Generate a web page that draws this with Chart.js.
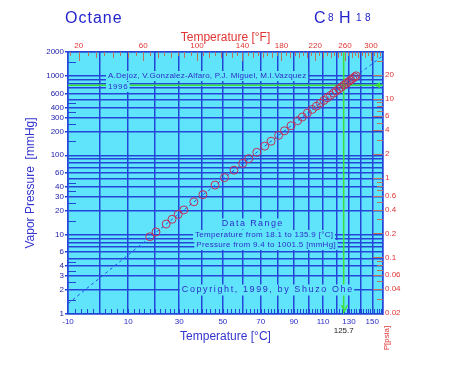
<!DOCTYPE html>
<html>
<head>
<meta charset="utf-8">
<title>Octane vapor pressure</title>
<script src="https://cdn.jsdelivr.net/npm/chart.js@4.4.1/dist/chart.umd.min.js"></script>
<style>
  html, body { margin: 0; padding: 0; background: #ffffff; }
  #coxChart { display: block; }
</style>
</head>
<body>
<canvas id="coxChart" width="474" height="367"></canvas>
<script>
// measured points
var tempC = [18.1, 20.5, 24.6, 27.0, 29.6, 32.0, 36.4, 40.5, 46.2, 50.8, 55.6, 60.1, 63.4, 67.8,
             72.3, 76.0, 80.5, 84.1, 88.2, 92.4, 95.6, 99.0, 102.3, 105.2, 108.0, 110.6, 113.1,
             115.5, 117.8, 119.9, 122.0, 124.0, 125.9, 127.8, 129.6, 131.4, 133.1, 134.6, 135.9];
var pressMmHg = [9.4, 10.8, 13.6, 15.6, 18.0, 20.5, 25.9, 31.9, 42.1, 52.2, 64.9, 78.9, 90.8, 108.9,
                 130.4, 150.4, 178.3, 203.4, 235.5, 272.4, 303.7, 339.9, 378.2, 414.8, 452.7, 490.4, 528.9,
                 567.9, 607.5, 645.7, 685.5, 725.3, 764.9, 806.0, 846.6, 888.7, 930.0, 967.6, 1001.5];

// dashed correlation line
var fitTempC = [-10, 30, 70, 110, 160];
var fitPressMmHg = [1.35, 18.4, 119, 482, 1804];

var gridTempC = [-10, 0, 10, 20, 30, 40, 50, 60, 70, 80, 90, 100, 110, 120, 130, 140, 150, 160];
var bottomTickLabels = [-10, 10, 30, 50, 70, 90, 110, 130, 150];
var topTickLabelsF = [20, 60, 100, 140, 180, 220, 260, 300];
var leftGridMmHg = [1, 2, 3, 4, 5, 6, 7, 8, 9, 10, 20, 30, 40, 50, 60, 70, 80, 90,
                    100, 200, 300, 400, 500, 600, 700, 800, 900, 1000, 2000];
var leftTickLabels = [1, 2, 3, 4, 6, 10, 20, 30, 40, 60, 100, 200, 300, 400, 600, 1000, 2000];
var rightTickLabels = [0.02, 0.04, 0.06, 0.1, 0.2, 0.4, 0.6, 1, 2, 4, 6, 10, 20];

var boilingPointC = 125.7;
var atmMmHg = 760;
var dataRangeT = ['18.1', '135.9'];
var dataRangeP = ['9.4', '1001.5'];

var MMHG_PER_PSI = 51.715;
var COX_C = 230;
var T_MIN = -10, T_MAX = 160;

var BG = '#60E4FC';
var GRID = '#2446D8';
var BLUE_TEXT = '#2C2CC8';
var RED_TEXT = '#E03434';
var TICK_RED = '#C0705A';
var GREEN = '#3CE03C';
var FONT = '"Liberation Sans", Arial, sans-serif';

function toAxis(t) { return -1000 / (t + COX_C); }
function fromAxis(v) { return -1000 / v - COX_C; }
function fToC(f) { return (f - 32) / 1.8; }

function xy(ts, ps) {
    var out = [];
    for (var i = 0; i < ts.length; i++) {
        out.push({x: toAxis(ts[i]), y: ps[i]});
    }
    return out;
}

function boxText(ctx, text, x, y, size, spacing, align) {
    ctx.font = size + 'px ' + FONT;
    ctx.letterSpacing = spacing + 'px';
    var w = ctx.measureText(text).width - spacing;
    var left = align === 'left' ? x : x - w / 2;
    ctx.fillStyle = BG;
    ctx.fillRect(left - 2, y - size / 2 - 1, w + 4, size + 2);
    ctx.fillStyle = BLUE_TEXT;
    ctx.textAlign = 'left';
    ctx.textBaseline = 'middle';
    ctx.fillText(text, left, y);
}

var coxDecor = {
    id: 'coxDecor',
    beforeDraw: function(chart) {
        var a = chart.chartArea, ctx = chart.ctx;
        ctx.save();
        ctx.fillStyle = BG;
        ctx.fillRect(a.left, a.top, a.right - a.left, a.bottom - a.top);
        ctx.restore();
    },
    afterDatasetsDraw: function(chart) {
        var ctx = chart.ctx, a = chart.chartArea;
        var x = chart.scales.x, y = chart.scales.y, y2 = chart.scales.y2;
        var i, px, py, len;
        ctx.save();
        ctx.lineWidth = 1;

        // bottom minor ticks, every 2 degC
        ctx.strokeStyle = GRID;
        ctx.beginPath();
        for (i = T_MIN + 2; i < T_MAX; i += 2) {
            px = Math.round(x.getPixelForValue(toAxis(i))) + 0.5;
            ctx.moveTo(px, a.bottom);
            ctx.lineTo(px, a.bottom - 5);
        }
        // left short ticks
        [1, 10, 100, 1000].forEach(function(d) {
            [1.5, 2.5, 3.5, 4.5].forEach(function(m) {
                py = Math.round(y.getPixelForValue(m * d)) + 0.5;
                if (py > a.top) {
                    ctx.moveTo(a.left, py);
                    ctx.lineTo(a.left + 8, py);
                }
            });
        });
        ctx.stroke();

        // top degF ticks
        ctx.strokeStyle = TICK_RED;
        ctx.beginPath();
        for (i = 15; i <= 320; i += 5) {
            px = Math.round(x.getPixelForValue(toAxis(fToC(i)))) + 0.5;
            if (px <= a.left || px >= a.right) continue;
            len = topTickLabelsF.indexOf(i) >= 0 ? 9 : (i % 10 === 0 ? 6 : 4);
            ctx.moveTo(px, a.top);
            ctx.lineTo(px, a.top + len);
        }
        // right psia ticks
        [0.01, 0.1, 1, 10].forEach(function(d) {
            for (var m = 1; m <= 9; m++) {
                var v = +(m * d).toFixed(3);
                py = Math.round(y2.getPixelForValue(v)) + 0.5;
                if (py < a.top + 1 || py > a.bottom - 1) continue;
                len = rightTickLabels.indexOf(v) >= 0 ? 10 : 6;
                ctx.moveTo(a.right, py);
                ctx.lineTo(a.right - len, py);
            }
        });
        ctx.stroke();

        // boiling point arrow
        px = Math.round(x.getPixelForValue(toAxis(boilingPointC))) + 0.5;
        ctx.strokeStyle = GREEN;
        ctx.lineWidth = 1.5;
        ctx.beginPath();
        ctx.moveTo(px - 3, a.bottom - 9);
        ctx.lineTo(px, a.bottom - 3);
        ctx.lineTo(px + 3, a.bottom - 9);
        ctx.stroke();
        py = y.getPixelForValue(atmMmHg);
        ctx.fillStyle = GREEN;
        ctx.beginPath();
        ctx.moveTo(a.right - 9, py);
        ctx.lineTo(a.right - 3, py - 3);
        ctx.lineTo(a.right - 3, py + 3);
        ctx.fill();

        // notes
        boxText(ctx, 'A.Dejoz, V.Gonzalez-Alfaro, P.J. Miguel, M.I.Vazquez', 108, 76, 8, 0.2, 'left');
        boxText(ctx, '1996', 108, 87, 8, 0.6, 'left');
        boxText(ctx, 'Data Range', 252, 224, 9, 1.4, 'center');
        boxText(ctx, 'Temperature from ' + dataRangeT[0] + ' to ' + dataRangeT[1] + ' [\u00B0C]', 264, 235, 8, 0.3, 'center');
        boxText(ctx, 'Pressure from ' + dataRangeP[0] + ' to ' + dataRangeP[1] + ' [mmHg]', 266, 245, 8, 0.3, 'center');
        boxText(ctx, 'Copyright, 1999, by Shuzo Ohe', 267, 290, 9, 1.6, 'center');

        ctx.restore();
    },
    afterDraw: function(chart) {
        var ctx = chart.ctx, a = chart.chartArea;
        var x = chart.scales.x;
        ctx.save();
        ctx.textBaseline = 'alphabetic';
        ctx.textAlign = 'left';
        ctx.fillStyle = '#2424CC';
        ctx.font = '16px ' + FONT;
        ctx.letterSpacing = '1px';
        ctx.fillText('Octane', 65, 23);

        // formula C8H18
        ctx.fillText('C', 314, 23);
        ctx.fillText('H', 339, 23);
        ctx.font = '10px ' + FONT;
        ctx.letterSpacing = '0px';
        ctx.fillText('8', 328, 21);
        ctx.fillText('1', 356, 21);
        ctx.fillText('8', 365, 21);

        ctx.fillStyle = '#202020';
        ctx.font = '8px ' + FONT;
        ctx.textAlign = 'center';
        ctx.textBaseline = 'middle';
        ctx.fillText(String(boilingPointC), x.getPixelForValue(toAxis(boilingPointC)), 331);

        ctx.fillStyle = RED_TEXT;
        ctx.translate(387, 338);
        ctx.rotate(-Math.PI / 2);
        ctx.fillText('P[psia]', 0, 0);
        ctx.restore();
    }
};

const ctx = document.getElementById('coxChart');

var chartInstance = new Chart(ctx, {
    type: 'scatter',
    data: {
        datasets: [{
            data: xy(tempC, pressMmHg),
            showLine: false,
            pointStyle: 'circle',
            pointRadius: 4,
            pointBorderWidth: 1,
            pointBorderColor: '#C0305A',
            pointBackgroundColor: 'rgba(0,0,0,0)',
            order: 0
        }, {
            data: xy(fitTempC, fitPressMmHg),
            showLine: true,
            borderColor: '#1F4FE8',
            borderWidth: 1,
            borderDash: [3, 3],
            pointRadius: 0,
            order: 1
        }, {
            data: xy([boilingPointC, boilingPointC], [1, 2000]),
            showLine: true,
            borderColor: GREEN,
            borderWidth: 1.5,
            pointRadius: 0,
            order: 2
        }, {
            data: xy([T_MIN, T_MAX], [atmMmHg, atmMmHg]),
            showLine: true,
            borderColor: GREEN,
            borderWidth: 1.5,
            pointRadius: 0,
            order: 2
        }]
    },
    options: {
        responsive: false,
        animation: false,
        devicePixelRatio: 1,
        layout: { padding: 0 },
        plugins: {
            legend: { display: false },
            tooltip: { enabled: false }
        },
        scales: {
            x: {
                type: 'linear',
                position: 'bottom',
                min: toAxis(T_MIN),
                max: toAxis(T_MAX),
                afterBuildTicks: function(scale) {
                    scale.ticks = gridTempC.map(function(t) { return {value: toAxis(t)}; });
                },
                afterFit: function(scale) { scale.height = 53; },
                grid: { color: GRID, lineWidth: 1.5, drawTicks: false },
                border: { color: GRID, width: 1.5 },
                ticks: {
                    autoSkip: false,
                    maxRotation: 0,
                    padding: 3,
                    color: BLUE_TEXT,
                    font: { family: FONT, size: 8 },
                    callback: function(value) {
                        var t = Math.round(fromAxis(value));
                        return bottomTickLabels.indexOf(t) >= 0 ? String(t) : '';
                    }
                },
                title: {
                    display: true,
                    text: 'Temperature [\u00B0C]',
                    color: '#3434D0',
                    font: { family: FONT, size: 12 },
                    padding: { top: 0, bottom: 23 }
                }
            },
            x2: {
                type: 'linear',
                position: 'top',
                min: toAxis(T_MIN),
                max: toAxis(T_MAX),
                afterBuildTicks: function(scale) {
                    scale.ticks = topTickLabelsF.map(function(f) { return {value: toAxis(fToC(f))}; });
                },
                afterFit: function(scale) { scale.height = 52; },
                grid: { drawOnChartArea: false, drawTicks: false },
                border: { color: GRID, width: 1.5 },
                ticks: {
                    autoSkip: false,
                    maxRotation: 0,
                    padding: 1,
                    color: RED_TEXT,
                    font: { family: FONT, size: 8 },
                    callback: function(value) {
                        return String(Math.round(fromAxis(value) * 1.8 + 32));
                    }
                },
                title: {
                    display: true,
                    text: 'Temperature [\u00B0F]',
                    color: RED_TEXT,
                    font: { family: FONT, size: 12 },
                    padding: { top: 30, bottom: 0 }
                }
            },
            y: {
                type: 'logarithmic',
                position: 'left',
                min: 1,
                max: 2000,
                afterBuildTicks: function(scale) {
                    scale.ticks = leftGridMmHg.map(function(v) { return {value: v}; });
                },
                afterFit: function(scale) { scale.width = 68; },
                grid: {
                    color: GRID,
                    lineWidth: 1.5,
                    tickLength: 3,
                    tickColor: function(context) {
                        return leftTickLabels.indexOf(context.tick.value) >= 0 ? GRID : 'rgba(0,0,0,0)';
                    }
                },
                border: { color: GRID, width: 1.5 },
                ticks: {
                    autoSkip: false,
                    padding: 1,
                    color: '#2222AA',
                    font: { family: FONT, size: 8 },
                    callback: function(value) {
                        return leftTickLabels.indexOf(value) >= 0 ? String(value) : '';
                    }
                },
                title: {
                    display: true,
                    text: 'Vapor Pressure  [mmHg]',
                    color: '#3434D0',
                    font: { family: FONT, size: 12 },
                    padding: { top: 23, bottom: 0 }
                }
            },
            y2: {
                type: 'logarithmic',
                position: 'right',
                min: 1 / MMHG_PER_PSI,
                max: 2000 / MMHG_PER_PSI,
                afterBuildTicks: function(scale) {
                    scale.ticks = rightTickLabels.map(function(v) { return {value: v}; });
                },
                afterFit: function(scale) { scale.width = 91; },
                grid: { drawOnChartArea: false, drawTicks: false },
                border: { color: GRID, width: 1.5 },
                ticks: {
                    autoSkip: false,
                    padding: 2,
                    color: RED_TEXT,
                    font: { family: FONT, size: 8 },
                    callback: function(value) {
                        return String(value);
                    }
                }
            }
        }
    },
    plugins: [coxDecor]
});
</script>
</body>
</html>
